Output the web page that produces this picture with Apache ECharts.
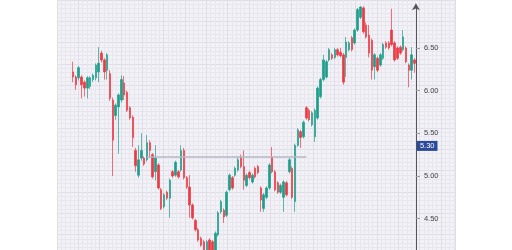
<!DOCTYPE html>
<html>
<head>
<meta charset="utf-8">
<script src="https://cdn.jsdelivr.net/npm/echarts@6/dist/echarts.min.js"></script>
<style>
html,body{margin:0;padding:0;background:#ffffff;}
#chart{width:512px;height:250px;}
</style>
</head>
<body>
<div id="chart"></div>
<script>
// ---- data ----
const opens  = [6.22,6.16,6.15,6.16,6.10,6.03,6.05,6.13,6.15,6.22,6.44,6.36,6.24,6.20,5.89,5.71,5.81,5.89,6.09,5.98,
                5.80,5.69,5.30,5.01,5.21,5.21,5.19,5.39,5.25,5.05,5.13,4.84,4.64,4.81,4.74,5.05,5.01,5.05,5.07,5.30,
                4.98,4.87,4.66,4.48,4.37,4.27,4.23,4.11,4.25,4.23,4.11,4.31,4.58,4.60,4.54,4.84,4.98,5.01,5.07,5.22,
                5.11,4.89,5.04,4.93,5.09,5.11,4.86,4.62,4.75,4.86,5.22,5.05,4.92,4.81,4.75,4.92,5.05,5.09,4.70,5.36,
                5.52,5.46,5.80,5.77,5.60,5.46,5.68,5.93,6.13,6.16,6.36,6.42,6.39,6.48,6.45,6.42,6.39,6.48,6.62,6.56,
                6.71,6.86,6.97,6.77,6.65,6.59,6.28,6.38,6.30,6.38,6.56,6.56,6.71,6.56,6.50,6.51,6.48,6.50,6.30,6.24,
                6.36];
const closes = [6.16,6.07,6.27,6.07,6.03,6.15,6.15,6.18,6.30,6.32,6.36,6.22,6.42,5.91,5.42,5.83,5.95,6.13,5.95,5.77,
                5.68,5.45,5.12,5.19,5.30,5.14,5.39,5.30,4.99,5.21,4.86,4.62,4.78,4.74,4.95,5.00,5.16,4.99,5.30,4.98,
                4.87,4.66,4.51,4.37,4.25,4.19,4.11,4.23,4.07,4.06,4.33,4.57,4.70,4.52,4.81,5.01,4.86,5.09,5.19,5.11,
                4.95,5.01,4.98,5.01,4.99,5.04,4.72,4.78,4.86,5.13,5.05,4.84,4.81,4.89,4.93,4.78,5.19,4.75,5.36,5.54,
                5.45,5.63,5.68,5.66,5.74,5.77,6.03,6.13,6.36,6.34,6.48,6.38,6.48,6.42,6.41,6.10,6.57,6.56,6.48,6.71,
                6.95,6.98,6.69,6.63,6.44,6.24,6.42,6.24,6.42,6.54,6.51,6.50,6.54,6.36,6.38,6.44,6.63,6.34,6.24,6.42,
                6.32];
const lows   = [6.10,6.01,6.12,5.91,5.93,5.91,6.02,6.10,6.12,6.10,6.33,6.13,6.13,5.88,5.00,5.66,5.26,5.86,5.89,5.75,
                5.66,5.34,5.05,4.98,5.18,5.12,5.17,5.21,4.97,4.95,4.84,4.60,4.62,4.72,4.51,4.98,4.99,4.97,5.05,4.96,
                4.85,4.51,4.49,4.35,4.23,4.17,4.08,4.08,4.04,4.03,4.08,4.29,4.56,4.45,4.52,4.82,4.84,4.99,5.05,5.09,
                4.84,4.87,4.96,4.91,4.97,5.02,4.58,4.58,4.73,4.84,5.03,4.82,4.79,4.79,4.58,4.76,5.03,4.73,4.58,5.34,
                5.33,5.44,5.66,5.64,5.58,5.40,5.66,5.91,6.11,6.14,6.34,6.36,6.37,6.40,6.39,6.07,6.16,6.46,6.46,6.54,
                6.69,6.84,6.67,6.61,6.39,6.13,6.13,6.22,6.28,6.36,6.49,6.48,6.52,6.34,6.36,6.42,6.46,6.32,6.04,6.13,
                6.21];
const highs  = [6.34,6.18,6.29,6.18,6.12,6.17,6.17,6.20,6.32,6.51,6.47,6.38,6.44,6.24,5.92,5.85,5.97,6.18,6.17,6.00,
                5.82,5.71,5.33,5.36,5.50,5.23,5.48,5.42,5.27,5.36,5.15,4.86,4.80,4.83,4.97,5.07,5.18,5.07,5.36,5.33,
                5.00,5.01,4.68,4.50,4.39,4.29,4.25,4.25,4.27,4.25,4.35,4.59,4.72,4.62,4.83,5.03,5.00,5.11,5.22,5.25,
                5.30,5.03,5.06,5.03,5.11,5.13,4.88,4.80,4.88,5.15,5.34,5.07,4.94,4.91,4.95,4.94,5.21,5.11,5.38,5.56,
                5.54,5.65,5.82,5.79,5.76,5.79,6.05,6.15,6.42,6.36,6.50,6.44,6.50,6.50,6.50,6.44,6.63,6.58,6.64,6.73,
                6.97,6.99,6.99,6.80,6.77,6.61,6.44,6.40,6.44,6.56,6.58,6.58,6.96,6.58,6.52,6.53,6.71,6.52,6.32,6.51,
                6.38];
const yTickValues = [4.5, 5.0, 5.5, 6.0, 6.5];
const yMin = 4.133;
const yMax = 7.0;
const resistanceLevel = 5.23;
const resistanceStart = 26;
const resistanceEnd = 82;
const priceTag = 5.30;

const categories = opens.map((_, i) => String(i + 1));
const candles = opens.map((o, i) => [o, closes[i], lows[i], highs[i]]);

const UP = '#1e9e8b';
const DOWN = '#ec3a44';

const chart = echarts.init(document.getElementById('chart'), null, {renderer: 'canvas'});
chart.setOption({
  animation: false,
  backgroundColor: '#ffffff',
  grid: [
    {left: 71.6, width: 344.3, top: 5.33, height: 244.67, show: false},
    {left: 57, width: 398, top: 0, height: 250, show: true, backgroundColor: '#f2f1f6', borderWidth: 0, z: 0}
  ],
  xAxis: [
    {type: 'category', gridIndex: 0, data: categories, show: false, boundaryGap: true},
    {type: 'value', gridIndex: 1, min: 0, max: 398, interval: 21.333,
     axisLine: {show: false}, axisTick: {show: false}, axisLabel: {show: false},
     splitLine: {show: true, lineStyle: {color: '#dfdde8', width: 1}},
     minorTick: {show: false, splitNumber: 5},
     minorSplitLine: {show: true, lineStyle: {color: '#e8e7ef', width: 1}}, z: 0}
  ],
  yAxis: [
    {type: 'value', gridIndex: 0, position: 'right', min: yMin, max: yMax,
     axisLine: {show: true, symbol: ['none', 'arrow'], symbolSize: [6, 7], symbolOffset: [0, 2],
                lineStyle: {color: '#555555', width: 1}},
     axisTick: {show: true, length: 4, customValues: yTickValues, lineStyle: {color: '#999999'}},
     axisLabel: {show: true, customValues: yTickValues, margin: 8, color: '#444444',
                 fontFamily: 'Liberation Sans', fontSize: 7.5, formatter: v => v.toFixed(2)},
     splitLine: {show: false}, z: 5},
    {type: 'value', gridIndex: 1, min: 0, max: 250, interval: 21.333, inverse: true,
     axisLine: {show: false}, axisTick: {show: false}, axisLabel: {show: false},
     splitLine: {show: true, lineStyle: {color: '#dfdde8', width: 1}},
     minorTick: {show: false, splitNumber: 5},
     minorSplitLine: {show: true, lineStyle: {color: '#e8e7ef', width: 1}}, z: 0}
  ],
  series: [{
    type: 'candlestick',
    xAxisIndex: 0, yAxisIndex: 0,
    data: candles,
    barWidth: 2,
    clip: false,
    itemStyle: {color: UP, color0: DOWN, borderColor: UP, borderColor0: DOWN, borderWidth: 0.7},
    z: 3,
    markLine: {
      silent: true,
      symbol: ['none', 'none'],
      animation: false,
      data: [
        [{coord: [categories[resistanceStart], resistanceLevel], lineStyle: {color: '#b7b6c6', width: 1.5, type: 'solid'}, label: {show: false}},
         {coord: [categories[resistanceEnd], resistanceLevel]}],
        {yAxis: priceTag, lineStyle: {color: 'rgba(0,0,0,0)', width: 0},
         label: {show: true, position: 'end', distance: 1, offset: [0, -4.5], formatter: () => priceTag.toFixed(2),
                 color: '#ffffff', backgroundColor: '#2b4a9b', padding: [1, 3, 1, 3],
                 fontFamily: 'Liberation Sans', fontSize: 7.5}}
      ]
    }
  }]
});
</script>
</body>
</html>
